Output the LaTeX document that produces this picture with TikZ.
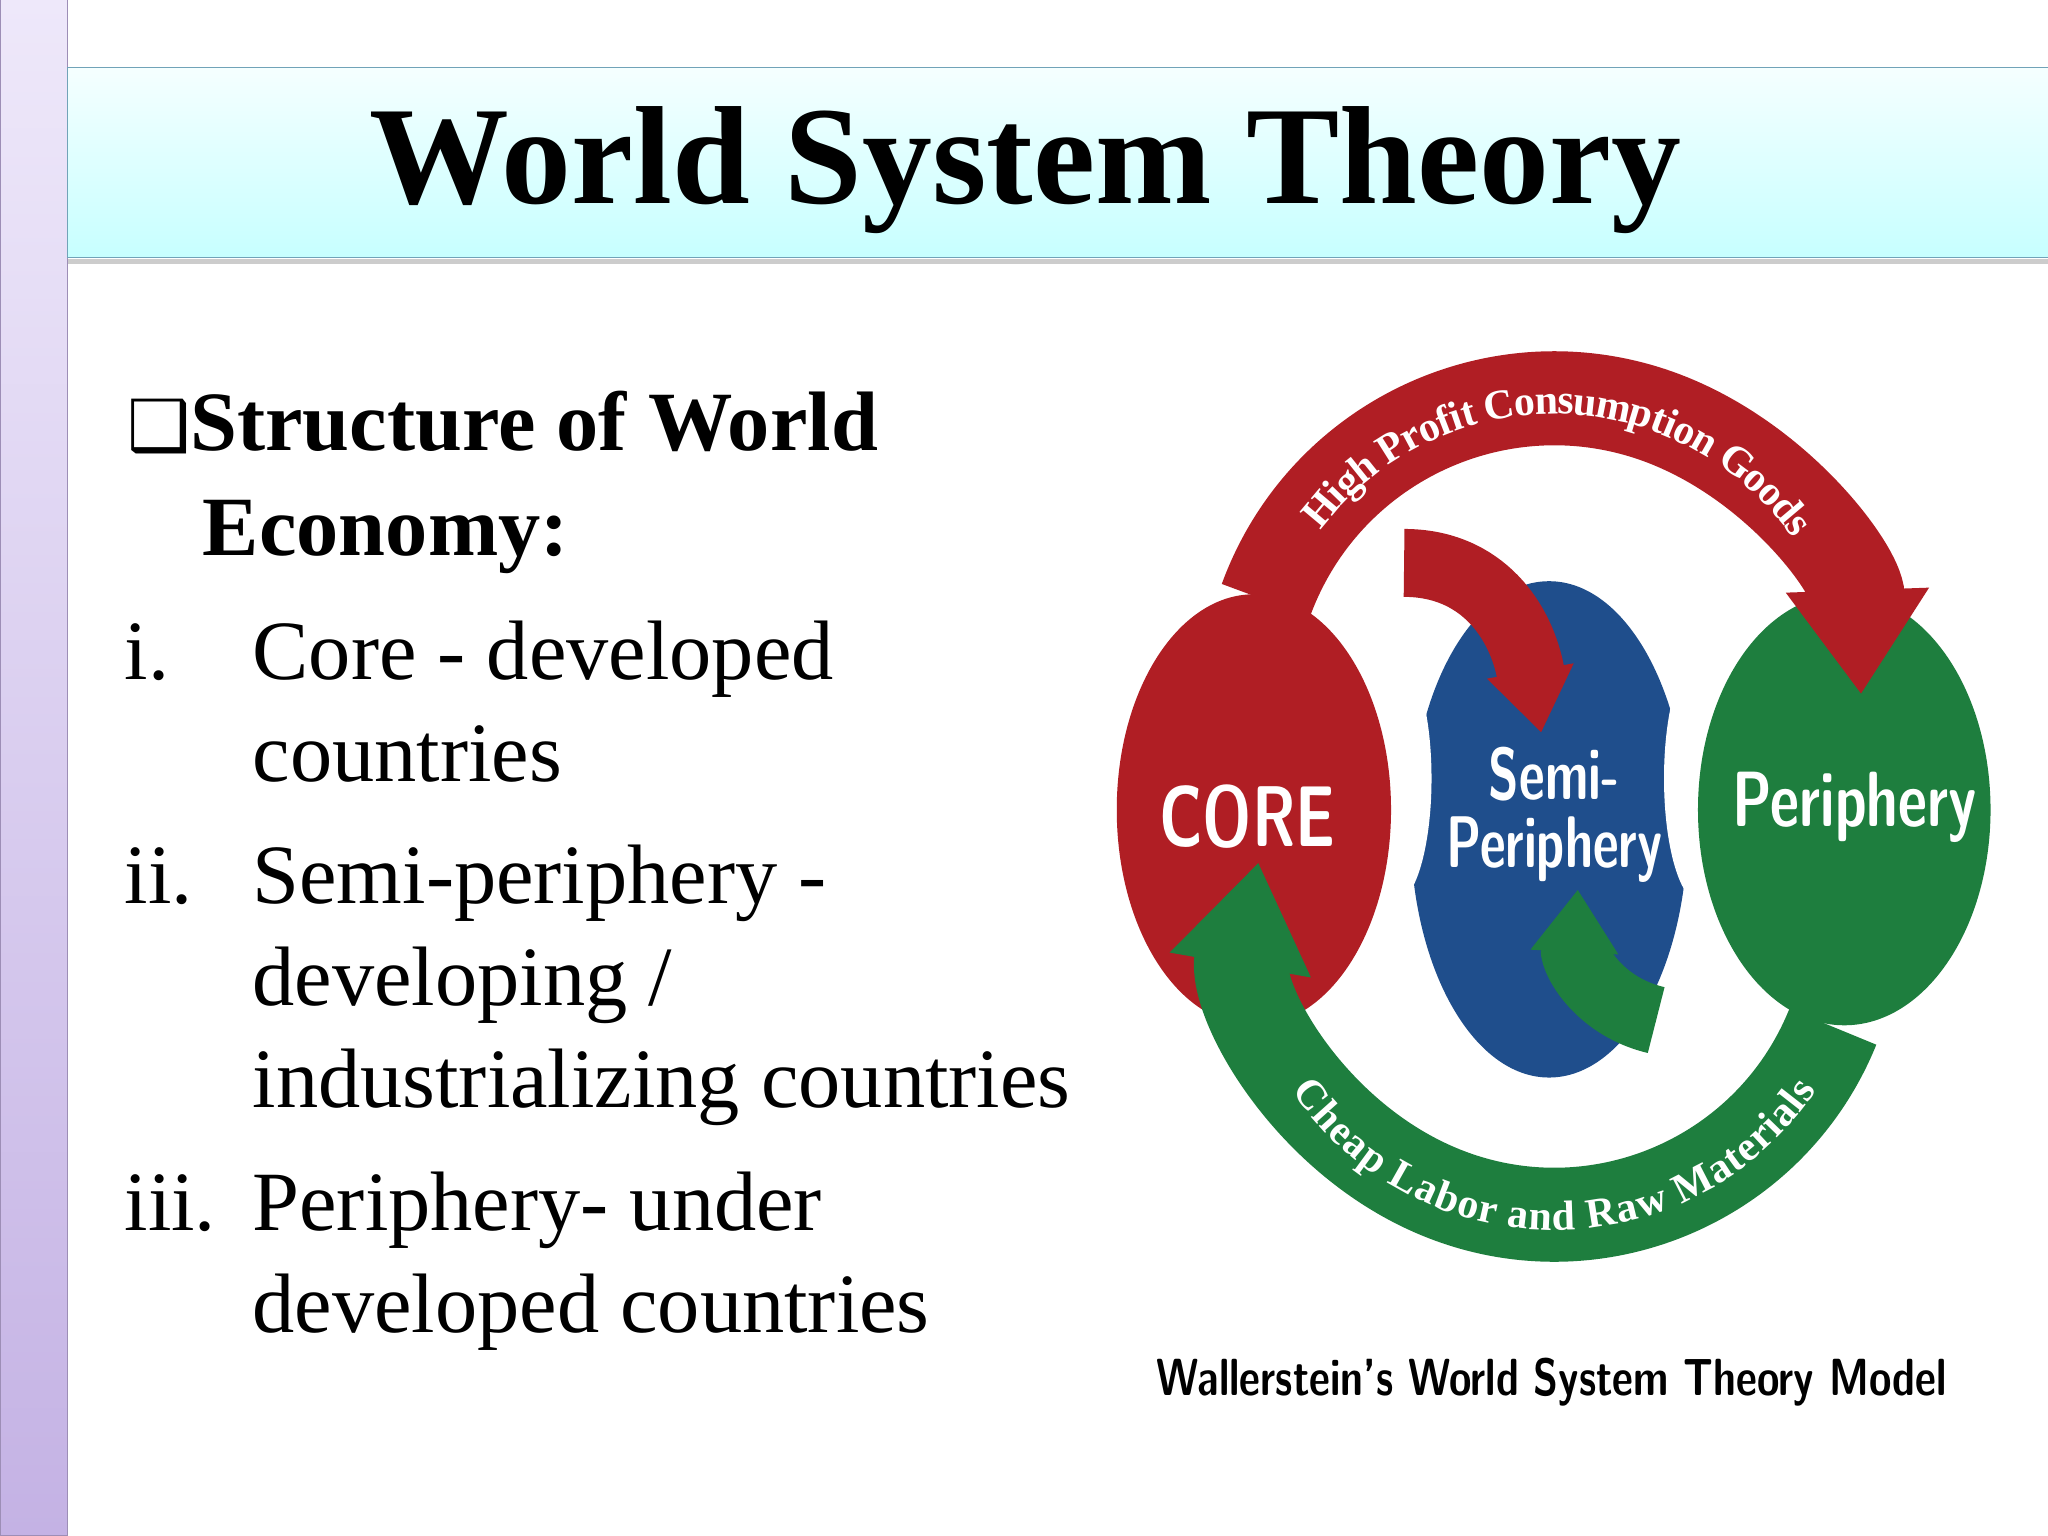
\documentclass[tikz,border=0pt]{standalone}
\usepackage{fontspec}
\setmainfont{Liberation Serif}
\newfontfamily\djv{DejaVu Sans}
\usetikzlibrary{arrows.meta,decorations.text,shadows}
\definecolor{cred}{HTML}{B01E24}
\definecolor{cblue}{HTML}{1F4E8C}
\definecolor{cgreen}{HTML}{1E7E3E}
\definecolor{lavtop}{HTML}{EEE8FA}
\definecolor{lavbot}{HTML}{C4B2E4}
\tikzset{
  item/.style={anchor=base west,inner sep=0pt,font=\fontsize{32.3}{32}\selectfont},
  lbl/.style={text=white,inner sep=0pt,align=center,xscale=0.72},
}
\begin{document}
\begin{tikzpicture}[x=0.5pt,y=0.5pt]
\useasboundingbox (0,0) rectangle (1568,1176);
\fill[white] (0,0) rectangle (1568,1176);
% left bar
\shade[top color=lavtop,bottom color=lavbot,draw=lavbot!80!black] (0,0) rectangle (52,1176);
% title band
\fill[gray!40] (52,974) rectangle (1568,978);
\shade[top color=cyan!4!white,bottom color=cyan!22!white,draw=cyan!40!gray] (52,979) rectangle (1568,1124);
\node[font=\bfseries\fontsize{53.5}{53}\selectfont] (title) at (785,1046) {World System Theory};
% list
\node[item,font=\bfseries\fontsize{32.3}{32}\selectfont] (h1) at (97,831) {{\djv\fontsize{27}{27}\selectfont ❑}Structure of World};
\node[item,font=\bfseries\fontsize{32.3}{32}\selectfont] (h2) at (155,751) {Economy:};
\node[item] (n1) at (95,656) {i.};
\node[item] (t1) at (193,656) {Core - developed};
\node[item] (t1b) at (193,578) {countries};
\node[item] (n2) at (95,484) {ii.};
\node[item] (t2) at (193,484) {Semi-periphery -};
\node[item] (t2b) at (193,406) {developing /};
\node[item] (t2c) at (193,328) {industrializing countries};
\node[item] (n3) at (95,234) {iii.};
\node[item] (t3) at (193,234) {Periphery- under};
\node[item] (t3b) at (193,156) {developed countries};
% circles
\fill[cblue] (1186,541) ellipse (106 and 190);
\fill[white] (1068,580) ellipse (28 and 95);
\fill[white] (1302,580) ellipse (28 and 95);
\fill[cred] (960,556) ellipse (105 and 165);
\fill[cgreen] (1412,556) ellipse (112 and 165);
% inner arrows
\draw[cred,line width=26pt,-{Triangle[width=32pt,length=24pt]}] (1075,745) .. controls (1135,745) and (1165,700) .. (1180,615);
\draw[cgreen,line width=26pt,-{Triangle[width=32pt,length=24pt]}] (1268,395) .. controls (1225,405) and (1205,440) .. (1208,495);
% big arcs
\draw[cred,line width=36pt,-{Triangle[width=52pt,length=40pt]}] (1190,636) ++(160:235) arc (160:2:235);
\draw[cgreen,line width=36pt,-{Triangle[width=52pt,length=40pt]}] (1190,476) ++(-22:230) arc (-22:-190:230);
\path[decorate,decoration={text along path,text align=center,raise=-6pt,
  text={|\bfseries\fontsize{16}{16}\selectfont\color{white}|High Profit Consumption Goods}}]
  (1190,636) ++(160:235) arc (160:18:235);
\path[decorate,decoration={text along path,text align=center,raise=-6pt,
  text={|\bfseries\fontsize{16}{16}\selectfont\color{white}|Cheap Labor and Raw Materials}}]
  (1190,476) ++(-158:230) arc (-158:-22:230);
% labels
\node[lbl,font=\sffamily\bfseries\fontsize{33}{33}\selectfont] (core) at (955,551) {CORE};
\node[lbl,font=\sffamily\bfseries\fontsize{28}{26}\selectfont,xscale=0.95] (semi) at (1190,552) {Semi-\\Periphery};
\node[lbl,font=\sffamily\bfseries\fontsize{30}{30}\selectfont] (peri) at (1420,558) {Periphery};
\node[font=\sffamily\bfseries\fontsize{20}{20}\selectfont,xscale=0.78] (cap) at (1188,118) {Wallerstein's World System Theory Model};
\end{tikzpicture}
\end{document}
